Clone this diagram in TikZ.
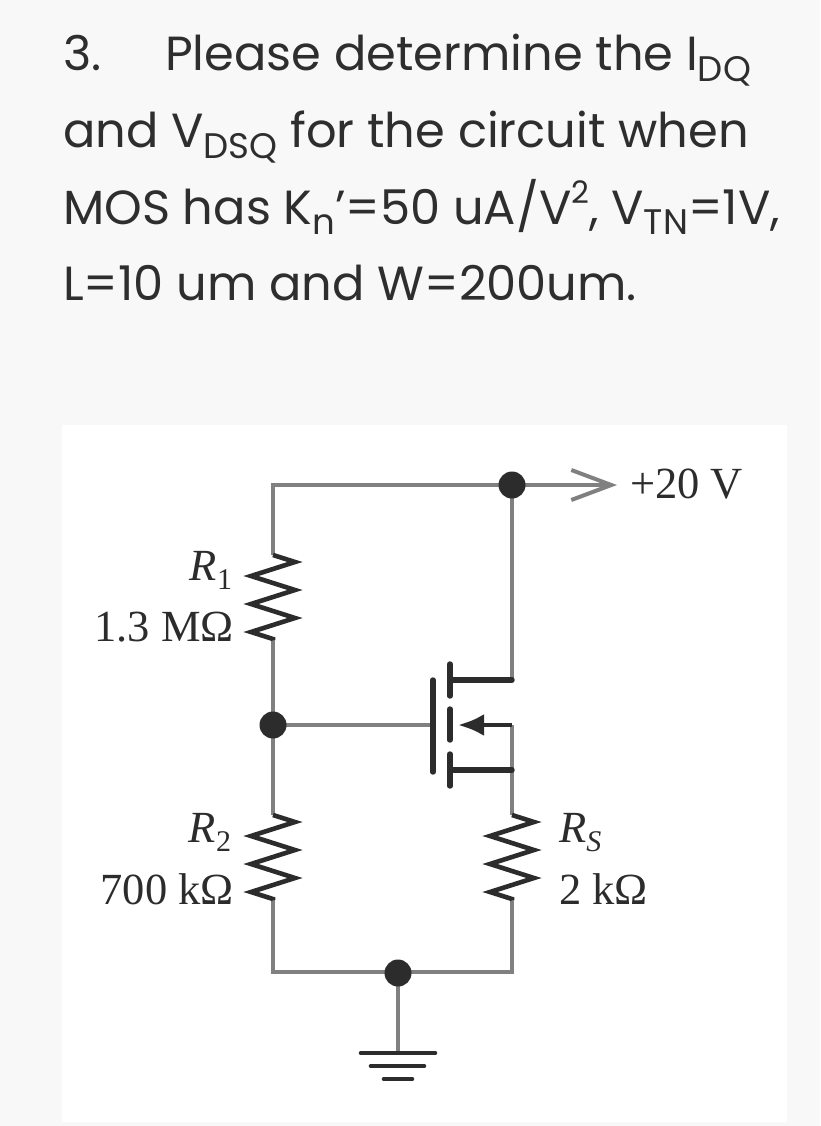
\documentclass[tikz,border=0pt]{standalone}
\usepackage{fontspec}
\setmainfont{Poppins}
\newfontfamily\circuitfont{Liberation Serif}
\usetikzlibrary{arrows.meta,decorations.pathmorphing}
\newcommand{\lowtxt}[1]{\raisebox{-0.22em}{\fontsize{35.5}{35.5}\selectfont #1}}
\newcommand{\hightxt}[1]{\raisebox{0.42em}{\fontsize{31}{31}\selectfont #1}}
\newcommand{\lowcirc}[1]{\raisebox{-0.22em}{\fontsize{30}{30}\selectfont #1}}
\definecolor{pagegray}{HTML}{F8F8F8}
\definecolor{wiregray}{HTML}{808080}
\definecolor{inkdark}{HTML}{2C2C2C}
\definecolor{headtext}{HTML}{2E2E2E}
\tikzset{
  heading/.style={anchor=base west,inner sep=0pt,text=headtext,font=\fontsize{47.9}{47.9}\selectfont},
  value/.style={inner sep=0pt,text=inkdark,font=\circuitfont\fontsize{44.5}{44.5}\selectfont},
  wire/.style={draw=wiregray,line width=3.2pt},
  plate/.style={draw=inkdark,line width=5.4pt,line cap=round},
  ground/.style={draw=inkdark,line width=4.6pt,line cap=round},
  junction/.style={circle,fill=inkdark,inner sep=0pt,minimum size=27pt},
  resistor/.style={draw=inkdark,line width=4.6pt,decorate,decoration={zigzag,segment length=28pt,amplitude=22pt}}
}
\begin{document}
\begin{tikzpicture}[x=1pt,y=-1pt]
\useasboundingbox[fill=pagegray] (0,0) rectangle (820,1126);
\fill[white] (62,425) rectangle (787,1122);
% question text
\node[heading] (num) at (63,71) {3.};
\node[heading] (line1) at (165,71) {Please determine the I\lowtxt{DQ}};
\node[heading] (line2) at (63,148) {and V\lowtxt{DSQ} for the circuit when};
\node[heading] (line3) at (63,224) {MOS has K\lowtxt{n}’=50 uA/V\hightxt{2}, V\lowtxt{TN}=1V,};
\node[heading] (line4) at (63,300) {L=10 um and W=200um.};
% corners and ends
\coordinate (vdd) at (512,485);
\coordinate (gate) at (273,725);
\coordinate (gnd) at (398,973);
\coordinate (tl) at (273,485);
\coordinate (bl) at (273,972);
\coordinate (br) at (512,972);
\coordinate (tip) at (617,485);
\coordinate (r1a) at (273,555);
\coordinate (r1b) at (273,640);
\coordinate (r2a) at (273,815);
\coordinate (r2b) at (273,900);
\coordinate (rsa) at (512,815);
\coordinate (rsb) at (512,900);
\coordinate (dr) at (512,680);
\coordinate (sr) at (512,770);
\coordinate (ar) at (512,725);
\coordinate (gp) at (433,725);
\coordinate (gt) at (433,680);
\coordinate (gb) at (433,772);
\coordinate (ch1a) at (450,664);
\coordinate (ch1b) at (450,696);
\coordinate (ch2a) at (450,709);
\coordinate (ch2b) at (450,740);
\coordinate (ch3a) at (450,754);
\coordinate (ch3b) at (450,786);
\coordinate (d) at (450,680);
\coordinate (s) at (450,770);
\coordinate (m) at (458,725);
\coordinate (e1) at (361,1053);
\coordinate (e2) at (435,1053);
\coordinate (e3) at (371,1066);
\coordinate (e4) at (424,1066);
\coordinate (e5) at (384,1079);
\coordinate (e6) at (412,1079);
\coordinate (gf) at (398,1053);
% wires
\draw[wire] (r1a) -- (tl) -- (vdd);
\draw[wire,-{Straight Barb[length=40pt,width=30pt,line width=4pt]}] (vdd) -- (tip);
\draw[wire] (vdd) -- (dr);
\draw[wire] (r1b) -- (r2a);
\draw[wire] (gate) -- (gp);
\draw[wire] (r2b) -- (bl) -- (br) -- (rsb);
\draw[wire] (rsa) -- (ar);
\draw[wire] (gnd) -- (gf);
% resistors
\draw[resistor] (r1a) -- (r1b);
\draw[resistor] (r2a) -- (r2b);
\draw[resistor] (rsa) -- (rsb);
% mosfet
\draw[plate] (gt) -- (gb);
\draw[plate] (ch1a) -- (ch1b);
\draw[plate] (ch2a) -- (ch2b);
\draw[plate] (ch3a) -- (ch3b);
\draw[plate] (d) -- (dr);
\draw[plate] (s) -- (sr);
\draw[draw=inkdark,line width=4.6pt,-{Latex[length=26pt,width=22pt]}] (ar) -- (m);
% ground
\draw[ground] (e1) -- (e2);
\draw[ground] (e3) -- (e4);
\draw[ground] (e5) -- (e6);
% junction dots
\node[junction] (vdddot) at (vdd) {};
\node[junction] (gatedot) at (gate) {};
\node[junction] (gnddot) at (gnd) {};
% labels
\node[value,anchor=base] (r1name) at (211,580) {\textit{R}\lowcirc{1}};
\node[value,anchor=base east] (r1val) at (234,641) {1.3 MΩ};
\node[value,anchor=base] (r2name) at (210,842) {\textit{R}\lowcirc{2}};
\node[value,anchor=base east] (r2val) at (234,904) {700 kΩ};
\node[value,anchor=base west] (rsname) at (559,842) {\textit{R}\lowcirc{\textit{S}}};
\node[value,anchor=base west] (rsval) at (559,904) {2 kΩ};
\node[value,anchor=base west] (vddval) at (630,498) {+20 V};
\end{tikzpicture}
\end{document}
